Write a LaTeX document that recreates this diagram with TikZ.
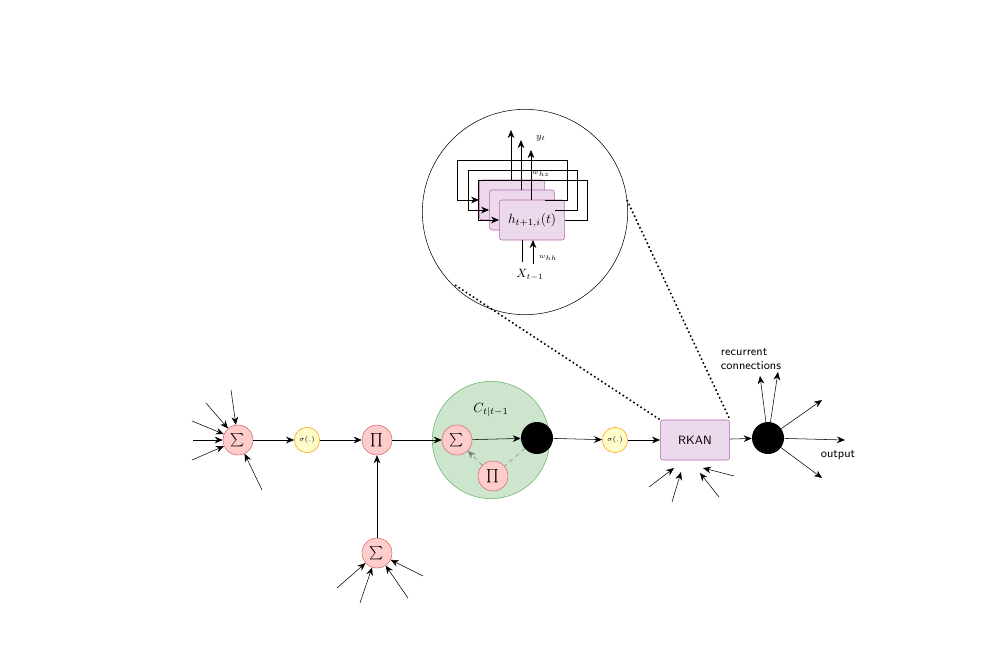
\documentclass[tikz,border=0pt]{standalone}
\usepackage{amsmath}
\usetikzlibrary{positioning,arrows.meta}
\begin{document}
\begin{tikzpicture}[x=0.75pt,y=-0.75pt,>={Stealth[length=6pt,width=5pt]},
  opnode/.style={circle, draw=red!70!black!60, fill=red!20, minimum size=22.5pt, inner sep=0pt},
  act/.style={circle, draw=orange!80!yellow, fill=yellow!20, minimum size=19pt, inner sep=0pt, font=\tiny},
  dot/.style={circle, fill=black, minimum size=24pt, inner sep=0pt},
  cell/.style={rectangle, rounded corners=2pt, draw=violet!60, fill=violet!15, minimum width=49pt, minimum height=30pt},
  lbl/.style={font=\sffamily\small, align=center}]
\useasboundingbox (0,0) rectangle (1000,650);
% inset
\node[circle, draw, minimum size=154pt] (zoom) at (525,212) {};
\node[cell] (h1) at (512,200) {};
\node[cell] (h2) at (522,210) {};
\node[cell] (h3) at (532,220) {$h_{t+1,i}(t)$};
\foreach \i/\a/\b/\c in {1/457/160/567,2/468/170/577,3/478/180/587}{
  \coordinate (lt\i) at (\a,\b); \coordinate (rt\i) at (\c,\b);
}
\draw[->] (h1.east) -- (567,200) -- (rt1) -- (lt1) |- (h1.west);
\draw[->] (h2.east) -- (577,210) -- (rt2) -- (lt2) |- (h2.west);
\draw[->] (h3.east) -- (587,220) -- (rt3) -- (lt3) |- (h3.west);
\coordinate (y1) at (511,130); \coordinate (y2) at (521,140); \coordinate (y3) at (531,150);
\draw[->] (511,180) -- (y1);
\draw[->] (521,190) -- (y2);
\draw[->] (531,200) -- (y3);
\node (yt) at (541,138) {\scriptsize$y_t$};
\node (whz) at (541,174) {\tiny$w_{hz}$};
\coordinate (xin1) at (522,262); \coordinate (xin2) at (533,264);
\draw (xin1) -- (522,240);
\draw[->] (xin2) -- (533,240);
\node (whh) at (548,258) {\tiny$w_{hh}$};
\node (xt) at (530,275) {\small$X_{t-1}$};
% main chain
\node[opnode] (sum1) at (238,440) {$\sum$};
\node[act] (sig1) at (307,440) {$\sigma(.)$};
\node[opnode] (prod1) at (377,440) {$\prod$};
\node[opnode] (sum2) at (377,553) {$\sum$};
\node[circle, draw=green!50!black!60, fill=green!50!black!20, minimum size=88pt] (cell) at (491,440) {};
\node (ct) at (491,410) {$C_{t|t-1}$};
\node[opnode] (sum3) at (457,440) {$\sum$};
\node[dot] (blk1) at (537,438) {};
\node[opnode] (prod2) at (493,476) {$\prod$};
\node[act] (sig2) at (615,440) {$\sigma(.)$};
\node[cell, minimum width=52pt] (rkan) at (695,440) {\sffamily\small RKAN};
\node[dot] (blk2) at (768,438) {};
% inputs
\foreach \n/\x/\y in {a/193/440,b/192/421,c/206/403,d/231/390,e/192/460,f/262/490}
  \draw[->] (\x,\y) coordinate (in\n) -- (sum1);
\foreach \n/\x/\y in {a/337/588,b/360/603,c/423/576,d/408/598}
  \draw[->] (\x,\y) coordinate (bi\n) -- (sum2);
\foreach \n/\x/\y/\u/\v in {a/649/487/674/468,b/672/502/681/472,c/734/476/703/468,d/719/497/700/473}{
  \coordinate (ri\n) at (\x,\y); \coordinate (rh\n) at (\u,\v);
  \draw[->] (ri\n) -- (rh\n);
}
\draw[->] (sum1) -- (sig1);
\draw[->] (sig1) -- (prod1);
\draw[->] (sum2) -- (prod1);
\draw[->] (prod1) -- (sum3);
\draw[->] (sum3) -- (blk1);
\draw[->] (blk1) -- (sig2);
\draw[->] (sig2) -- (rkan);
\draw[->] (rkan) -- (blk2);
\draw[gray, dashed] (blk1) -- (prod2);
\draw[->, gray, dashed] (prod2) -- (sum3);
% outputs
\coordinate (oa) at (822,400); \coordinate (ob) at (845,440); \coordinate (oc) at (822,478);
\coordinate (ra) at (760,376); \coordinate (rb) at (778,372);
\draw[->] (blk2) -- (oa);
\draw[->] (blk2) -- (ob);
\draw[->] (blk2) -- (oc);
\draw[->] (blk2) -- (ra);
\draw[->] (blk2) -- (rb);
\node[lbl] (out) at (838,455) {output};
\node[lbl, align=left] (rec) at (751,359) {recurrent\\connections};
% zoom lines
\draw[dotted, line width=1.2pt] (455,285) -- (rkan.north west);
\draw[dotted, line width=1.2pt] (627,200) -- (rkan.north east);
\end{tikzpicture}
\end{document}
